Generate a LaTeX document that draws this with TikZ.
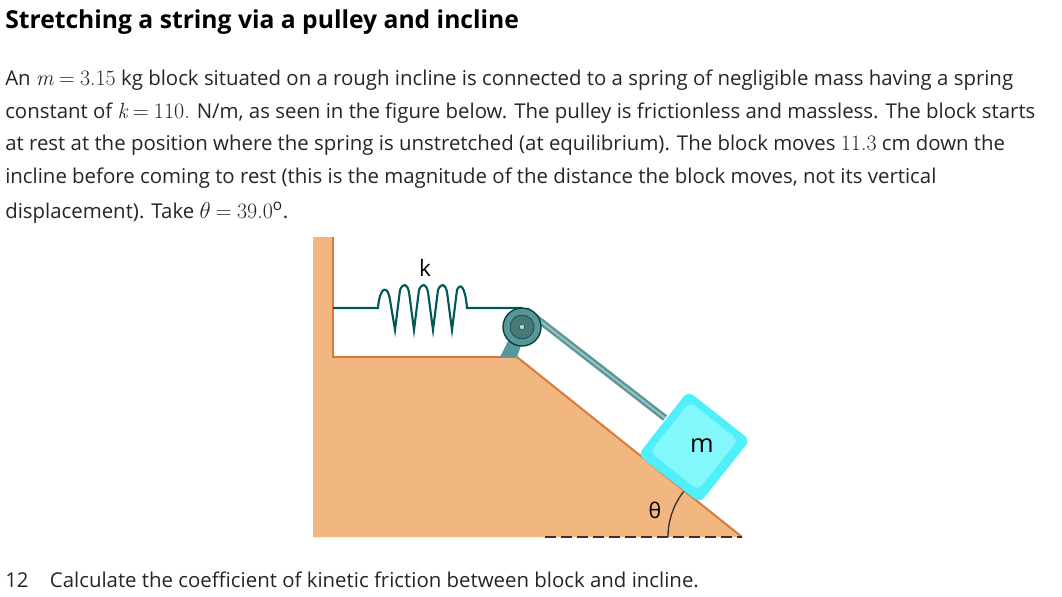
\documentclass[tikz,border=0pt]{standalone}
\usepackage{fontspec}
\setmainfont{Open Sans}
\newfontfamily\lmr{Latin Modern Roman}
\newcommand{\nm}[1]{{\lmr\fontsize{16.5}{17}\selectfont #1}}
\definecolor{ground}{RGB}{242,182,128}
\definecolor{groundedge}{RGB}{215,120,60}
\definecolor{blockout}{RGB}{80,240,250}
\definecolor{blockin}{RGB}{130,248,252}
\definecolor{ropec}{RGB}{90,150,150}
\begin{document}
\begin{tikzpicture}[x=0.75pt,y=-0.75pt,
  txt/.style={anchor=west,inner sep=0pt,font=\fontsize{15.3}{16}\selectfont,text=black!85},
  rope/.style={line width=5pt,draw=ropec}]
\useasboundingbox[fill=white] (0,0) rectangle (1062,596);
\node[anchor=west,inner sep=0pt,font=\fontsize{18.5}{20}\selectfont\bfseries] (title) at (5,22) {Stretching a string via a pulley and incline};
\node[txt] (l1) at (5,80) {An \nm{\itshape m} \nm{=} \nm{3.15} kg block situated on a rough incline is connected to a spring of negligible mass having a spring};
\node[txt] (l2) at (5,113) {constant of \nm{\itshape k} \nm{=} \nm{110.} N/m, as seen in the figure below. The pulley is frictionless and massless. The block starts};
\node[txt] (l3) at (5,145) {at rest at the position where the spring is unstretched (at equilibrium). The block moves \nm{11.3} cm down the};
\node[txt] (l4) at (5,178) {incline before coming to rest (this is the magnitude of the distance the block moves, not its vertical};
\node[txt] (l5) at (5,213) {displacement). Take \nm{$\theta$} \nm{=} \nm{39.0$^{\mathrm{o}}$}.};
\node[txt] (q) at (5,580) {12\hspace{16pt}Calculate the coefficient of kinetic friction between block and incline.};
% ground body
\fill[ground] (313,237) -- (333,237) -- (333,357) -- (517,357) -- (742,537) -- (313,537) -- cycle;
\draw[line width=1.5pt,groundedge] (333,237) -- (333,357) -- (517,357);
\draw[line width=1.5pt,groundedge] (517,357) -- (742,537);
\draw[line width=2pt,black!80,dash pattern=on 8pt off 4pt] (545,537) -- (742,537);
% spring
\draw[line width=1.6pt,teal!70!black] (333,308) -- (378,308)
  .. controls (380,285) and (388,285) .. (390,300) -- (395,330) -- (400,290)
  .. controls (403,283) and (407,283) .. (409,292) -- (414,330) -- (419,290)
  .. controls (422,283) and (426,283) .. (428,292) -- (433,330) -- (438,290)
  .. controls (441,283) and (445,283) .. (447,292) -- (452,330) -- (457,290)
  .. controls (460,283) and (465,285) .. (467,308) -- (522,308);
\node[font=\fontsize{17}{17}\selectfont] (k) at (425,268) {k};
% pulley support
\fill[ropec] (500,357) -- (517,357) -- (526,331) -- (516,325) -- cycle;
% rope
\coordinate (rA) at (526,310);
\coordinate (rB) at (665,418);
\draw[rope] (rA) -- (rB);
\draw[ropec!60!white,line width=1.5pt] (rA) -- (rB);
% pulley
\node[circle,minimum size=38*0.75pt,fill=ropec,draw=teal!50!black,line width=1pt] (pul) at (522,327) {};
\node[circle,minimum size=24*0.75pt,fill=ropec!80!black,draw=teal!50!black] (pin) at (522,327) {};
\node[circle,minimum size=4pt,fill=ropec!40!white,draw=teal!70!black,inner sep=0pt] at (522,327) {};
% block
\fill[blockout,rounded corners=5pt] (638,455) -- (688,391) -- (750,440) -- (700,503) -- cycle;
\fill[blockin,rounded corners=4pt] (650,452) -- (690,402) -- (738,440) -- (698,490) -- cycle;
\node[font=\fontsize{19}{19}\selectfont] (m) at (702,446) {m};
% angle
\draw[line width=1pt,black!80] (668,537) arc[start angle=180,end angle=218,radius=74];
\node[font=\fontsize{16}{16}\selectfont] (th) at (655,510) {θ};
\end{tikzpicture}
\end{document}
